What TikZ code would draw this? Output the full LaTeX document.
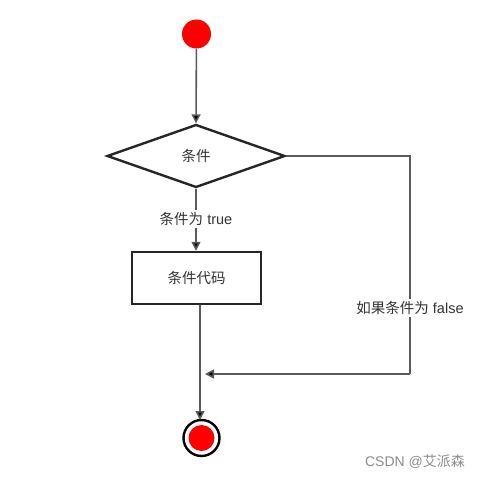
\documentclass[tikz,border=0pt]{standalone}
\usepackage{fontspec}
\setmainfont{Liberation Sans}
\newfontfamily\cjk{Noto Sans CJK SC}
\usetikzlibrary{shapes.geometric,arrows.meta,calc}
\definecolor{linegray}{HTML}{5A5A5A}
\definecolor{textgray}{HTML}{333333}
\tikzset{
  conn/.style={draw=linegray,line width=1.6pt,-{Triangle[length=9pt,width=9pt,fill=black]}},
  plainconn/.style={draw=linegray,line width=1.6pt},
  lbl/.style={fill=white,text=textgray,font=\fontsize{14.5}{16}\selectfont,inner sep=2pt},
  dia/.style={diamond,draw=black!85,line width=2.4pt,minimum width=178pt,minimum height=63pt,inner sep=0pt,text=textgray,font=\fontsize{14.5}{16}\selectfont},
  boxst/.style={rectangle,draw=black!85,line width=2.4pt,minimum width=129pt,minimum height=52pt,inner sep=0pt,text=textgray,font=\fontsize{14.5}{16}\selectfont},
  wm/.style={text=black!45,font=\fontsize{14}{16}\selectfont}
}
\begin{document}
\begin{tikzpicture}[x=1pt,y=-1pt]
\useasboundingbox (0,0) rectangle (481,478);
\node[circle,fill=red,minimum size=29pt,inner sep=0pt] (start) at (196.5,34) {};
\node[dia] (cond) at (196,156) {\cjk 条件};
\node[boxst] (code) at (196.5,278) {\cjk 条件代码};
\node[circle,draw=black,line width=2.4pt,fill=white,minimum size=36pt,inner sep=0pt] (end) at (201.5,438) {};
\node[circle,fill=red,minimum size=26pt,inner sep=0pt] (endin) at (end.center) {};
\coordinate (corner) at (410,374);
\coordinate (join) at (205,374);
\draw[conn] (start) -- (cond.north);
\draw[conn] (cond.south) -- (cond.south |- code.north);
\node[lbl] (tlabel) at (196,219) {{\cjk 条件为} true};
\draw[conn] (code.south -| 200,0) -- (200,420);
\draw[plainconn] (cond.east) -| (corner);
\draw[conn] (corner) -- (join);
\node[lbl] (flabel) at (410,308) {{\cjk 如果条件为} false};
\node[wm] (mark) at (415,462) {CSDN @{\cjk 艾派森}};
\end{tikzpicture}
\end{document}
